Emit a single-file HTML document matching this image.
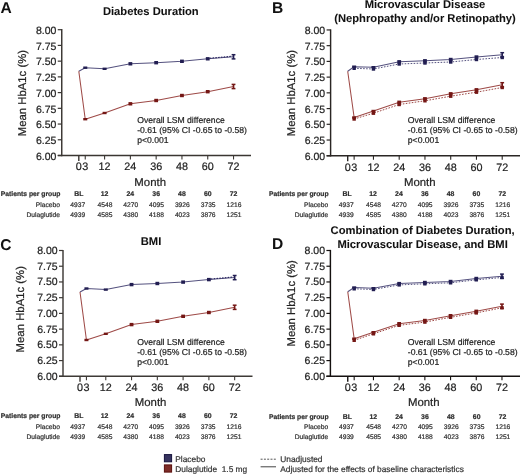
<!DOCTYPE html>
<html><head><meta charset="utf-8">
<style>
html,body{margin:0;padding:0;background:#fff;}
body{width:520px;height:474px;overflow:hidden;}
svg{display:block;font-family:"Liberation Sans", sans-serif;filter:blur(0.35px);text-rendering:geometricPrecision;}

</style></head>
<body>
<svg width="520" height="474" viewBox="0 0 520 474">
<rect width="520" height="474" fill="#fff"/>
<text x="0.60" y="12.60" font-size="15.6" text-anchor="start" font-weight="bold" fill="#111" >A</text>
<text x="150.80" y="14.80" font-size="11.2" text-anchor="middle" font-weight="bold" fill="#111" stroke="#111" stroke-width="0.05" >Diabetes Duration</text>
<text x="0" y="0" font-size="11.35" fill="#222" stroke="#222" stroke-width="0.2" transform="translate(26.10,136.30) rotate(-90)">Mean HbA1c (%)</text>
<line x1="61.75" y1="29.10" x2="61.75" y2="156.20" stroke="#3a3632" stroke-width="1.45" />
<line x1="57.75" y1="29.70" x2="61.75" y2="29.70" stroke="#3a3632" stroke-width="1.2" />
<text x="56.35" y="34.00" font-size="10.5" text-anchor="end" fill="#222" stroke="#222" stroke-width="0.2" >8.00</text>
<line x1="57.75" y1="45.42" x2="61.75" y2="45.42" stroke="#3a3632" stroke-width="1.2" />
<text x="56.35" y="49.72" font-size="10.5" text-anchor="end" fill="#222" stroke="#222" stroke-width="0.2" >7.75</text>
<line x1="57.75" y1="61.15" x2="61.75" y2="61.15" stroke="#3a3632" stroke-width="1.2" />
<text x="56.35" y="65.45" font-size="10.5" text-anchor="end" fill="#222" stroke="#222" stroke-width="0.2" >7.50</text>
<line x1="57.75" y1="76.88" x2="61.75" y2="76.88" stroke="#3a3632" stroke-width="1.2" />
<text x="56.35" y="81.17" font-size="10.5" text-anchor="end" fill="#222" stroke="#222" stroke-width="0.2" >7.25</text>
<line x1="57.75" y1="92.60" x2="61.75" y2="92.60" stroke="#3a3632" stroke-width="1.2" />
<text x="56.35" y="96.90" font-size="10.5" text-anchor="end" fill="#222" stroke="#222" stroke-width="0.2" >7.00</text>
<line x1="57.75" y1="108.33" x2="61.75" y2="108.33" stroke="#3a3632" stroke-width="1.2" />
<text x="56.35" y="112.62" font-size="10.5" text-anchor="end" fill="#222" stroke="#222" stroke-width="0.2" >6.75</text>
<line x1="57.75" y1="124.05" x2="61.75" y2="124.05" stroke="#3a3632" stroke-width="1.2" />
<text x="56.35" y="128.35" font-size="10.5" text-anchor="end" fill="#222" stroke="#222" stroke-width="0.2" >6.50</text>
<line x1="57.75" y1="139.78" x2="61.75" y2="139.78" stroke="#3a3632" stroke-width="1.2" />
<text x="56.35" y="144.08" font-size="10.5" text-anchor="end" fill="#222" stroke="#222" stroke-width="0.2" >6.25</text>
<line x1="57.75" y1="155.50" x2="61.75" y2="155.50" stroke="#3a3632" stroke-width="1.2" />
<text x="56.35" y="159.80" font-size="10.5" text-anchor="end" fill="#222" stroke="#222" stroke-width="0.2" >6.00</text>
<line x1="57.75" y1="155.50" x2="251.00" y2="155.50" stroke="#3a3632" stroke-width="1.5" />
<line x1="78.80" y1="155.50" x2="78.80" y2="161.00" stroke="#3a3632" stroke-width="1.4" />
<text x="78.80" y="170.40" font-size="10.8" text-anchor="middle" fill="#222" stroke="#222" stroke-width="0.2" >0</text>
<line x1="85.25" y1="155.50" x2="85.25" y2="159.50" stroke="#3a3632" stroke-width="1.1" />
<text x="85.25" y="170.40" font-size="10.8" text-anchor="middle" fill="#222" stroke="#222" stroke-width="0.2" >3</text>
<line x1="104.59" y1="155.50" x2="104.59" y2="159.50" stroke="#3a3632" stroke-width="1.1" />
<text x="104.59" y="170.40" font-size="10.8" text-anchor="middle" fill="#222" stroke="#222" stroke-width="0.2" >12</text>
<line x1="130.38" y1="155.50" x2="130.38" y2="159.50" stroke="#3a3632" stroke-width="1.1" />
<text x="130.38" y="170.40" font-size="10.8" text-anchor="middle" fill="#222" stroke="#222" stroke-width="0.2" >24</text>
<line x1="156.16" y1="155.50" x2="156.16" y2="159.50" stroke="#3a3632" stroke-width="1.1" />
<text x="156.16" y="170.40" font-size="10.8" text-anchor="middle" fill="#222" stroke="#222" stroke-width="0.2" >36</text>
<line x1="181.95" y1="155.50" x2="181.95" y2="159.50" stroke="#3a3632" stroke-width="1.1" />
<text x="181.95" y="170.40" font-size="10.8" text-anchor="middle" fill="#222" stroke="#222" stroke-width="0.2" >48</text>
<line x1="207.74" y1="155.50" x2="207.74" y2="159.50" stroke="#3a3632" stroke-width="1.1" />
<text x="207.74" y="170.40" font-size="10.8" text-anchor="middle" fill="#222" stroke="#222" stroke-width="0.2" >60</text>
<line x1="233.53" y1="155.50" x2="233.53" y2="159.50" stroke="#3a3632" stroke-width="1.1" />
<text x="233.53" y="170.40" font-size="10.8" text-anchor="middle" fill="#222" stroke="#222" stroke-width="0.2" >72</text>
<text x="150.20" y="186.30" font-size="11.4" text-anchor="middle" fill="#222" stroke="#222" stroke-width="0.2" >Month</text>
<text x="60.40" y="196.10" font-size="6.75" text-anchor="end" font-weight="bold" fill="#2e2e2e" stroke="#2e2e2e" stroke-width="0.2" >Patients per group</text>
<text x="60.00" y="206.60" font-size="6.7" text-anchor="end" fill="#2e2e2e" stroke="#2e2e2e" stroke-width="0.2" >Placebo</text>
<text x="60.00" y="216.80" font-size="6.7" text-anchor="end" fill="#2e2e2e" stroke="#2e2e2e" stroke-width="0.2" >Dulaglutide</text>
<text x="78.80" y="196.20" font-size="6.9" text-anchor="middle" font-weight="bold" fill="#2e2e2e" stroke="#2e2e2e" stroke-width="0.2" >BL</text>
<text x="77.80" y="206.60" font-size="6.7" text-anchor="middle" fill="#2e2e2e" stroke="#2e2e2e" stroke-width="0.2" >4937</text>
<text x="77.80" y="216.80" font-size="6.7" text-anchor="middle" fill="#2e2e2e" stroke="#2e2e2e" stroke-width="0.2" >4939</text>
<text x="104.59" y="196.20" font-size="6.9" text-anchor="middle" font-weight="bold" fill="#2e2e2e" stroke="#2e2e2e" stroke-width="0.2" >12</text>
<text x="104.99" y="206.60" font-size="6.7" text-anchor="middle" fill="#2e2e2e" stroke="#2e2e2e" stroke-width="0.2" >4548</text>
<text x="104.99" y="216.80" font-size="6.7" text-anchor="middle" fill="#2e2e2e" stroke="#2e2e2e" stroke-width="0.2" >4585</text>
<text x="130.38" y="196.20" font-size="6.9" text-anchor="middle" font-weight="bold" fill="#2e2e2e" stroke="#2e2e2e" stroke-width="0.2" >24</text>
<text x="130.78" y="206.60" font-size="6.7" text-anchor="middle" fill="#2e2e2e" stroke="#2e2e2e" stroke-width="0.2" >4270</text>
<text x="130.78" y="216.80" font-size="6.7" text-anchor="middle" fill="#2e2e2e" stroke="#2e2e2e" stroke-width="0.2" >4380</text>
<text x="156.16" y="196.20" font-size="6.9" text-anchor="middle" font-weight="bold" fill="#2e2e2e" stroke="#2e2e2e" stroke-width="0.2" >36</text>
<text x="156.56" y="206.60" font-size="6.7" text-anchor="middle" fill="#2e2e2e" stroke="#2e2e2e" stroke-width="0.2" >4095</text>
<text x="156.56" y="216.80" font-size="6.7" text-anchor="middle" fill="#2e2e2e" stroke="#2e2e2e" stroke-width="0.2" >4188</text>
<text x="181.95" y="196.20" font-size="6.9" text-anchor="middle" font-weight="bold" fill="#2e2e2e" stroke="#2e2e2e" stroke-width="0.2" >48</text>
<text x="182.35" y="206.60" font-size="6.7" text-anchor="middle" fill="#2e2e2e" stroke="#2e2e2e" stroke-width="0.2" >3926</text>
<text x="182.35" y="216.80" font-size="6.7" text-anchor="middle" fill="#2e2e2e" stroke="#2e2e2e" stroke-width="0.2" >4023</text>
<text x="207.74" y="196.20" font-size="6.9" text-anchor="middle" font-weight="bold" fill="#2e2e2e" stroke="#2e2e2e" stroke-width="0.2" >60</text>
<text x="208.14" y="206.60" font-size="6.7" text-anchor="middle" fill="#2e2e2e" stroke="#2e2e2e" stroke-width="0.2" >3735</text>
<text x="208.14" y="216.80" font-size="6.7" text-anchor="middle" fill="#2e2e2e" stroke="#2e2e2e" stroke-width="0.2" >3876</text>
<text x="233.53" y="196.20" font-size="6.9" text-anchor="middle" font-weight="bold" fill="#2e2e2e" stroke="#2e2e2e" stroke-width="0.2" >72</text>
<text x="233.93" y="206.60" font-size="6.7" text-anchor="middle" fill="#2e2e2e" stroke="#2e2e2e" stroke-width="0.2" >1216</text>
<text x="233.93" y="216.80" font-size="6.7" text-anchor="middle" fill="#2e2e2e" stroke="#2e2e2e" stroke-width="0.2" >1251</text>
<text x="137.20" y="123.10" font-size="8.65" text-anchor="start" fill="#222" stroke="#222" stroke-width="0.2" >Overall LSM difference</text>
<text x="137.20" y="133.10" font-size="8.65" text-anchor="start" fill="#222" stroke="#222" stroke-width="0.2" >-0.61 (95% CI -0.65 to -0.58)</text>
<text x="137.20" y="143.00" font-size="8.65" text-anchor="start" fill="#222" stroke="#222" stroke-width="0.2" >p&lt;0.001</text>
<polyline points="78.80,71.20 85.25,67.70 104.59,68.80 130.38,63.80 156.16,62.70 181.95,61.30 207.74,58.80 233.53,56.80" fill="none" stroke="#55527f" stroke-width="1.05" stroke-linejoin="round" />
<rect x="83.25" y="66.50" width="4.0" height="2.4" fill="#221e52"/>
<rect x="102.59" y="67.60" width="4.0" height="2.4" fill="#221e52"/>
<rect x="128.48" y="62.10" width="3.8" height="3.4" fill="#221e52"/>
<rect x="154.26" y="61.00" width="3.8" height="3.4" fill="#221e52"/>
<rect x="180.05" y="59.60" width="3.8" height="3.4" fill="#221e52"/>
<rect x="205.84" y="57.10" width="3.8" height="3.4" fill="#221e52"/>
<line x1="233.53" y1="54.70" x2="233.53" y2="58.90" stroke="#221e52" stroke-width="1.6" />
<line x1="231.63" y1="54.70" x2="235.43" y2="54.70" stroke="#221e52" stroke-width="1.5" />
<line x1="231.63" y1="58.90" x2="235.43" y2="58.90" stroke="#221e52" stroke-width="1.5" />
<polyline points="78.80,71.20 85.25,119.20 104.59,113.00 130.38,103.80 156.16,100.50 181.95,95.50 207.74,91.70 233.53,86.50" fill="none" stroke="#9e4a47" stroke-width="1.05" stroke-linejoin="round" />
<rect x="83.25" y="118.00" width="4.0" height="2.4" fill="#741715"/>
<rect x="102.59" y="111.80" width="4.0" height="2.4" fill="#741715"/>
<rect x="128.48" y="102.10" width="3.8" height="3.4" fill="#741715"/>
<rect x="154.26" y="98.80" width="3.8" height="3.4" fill="#741715"/>
<rect x="180.05" y="93.80" width="3.8" height="3.4" fill="#741715"/>
<rect x="205.84" y="90.00" width="3.8" height="3.4" fill="#741715"/>
<line x1="233.53" y1="84.40" x2="233.53" y2="88.60" stroke="#741715" stroke-width="1.6" />
<line x1="231.63" y1="84.40" x2="235.43" y2="84.40" stroke="#741715" stroke-width="1.5" />
<line x1="231.63" y1="88.60" x2="235.43" y2="88.60" stroke="#741715" stroke-width="1.5" />
<text x="271.90" y="12.90" font-size="15.6" text-anchor="start" font-weight="bold" fill="#111" >B</text>
<text x="425.00" y="8.20" font-size="11.2" text-anchor="middle" font-weight="bold" fill="#111" stroke="#111" stroke-width="0.05" >Microvascular Disease</text>
<text x="425.00" y="21.50" font-size="11.2" text-anchor="middle" font-weight="bold" fill="#111" stroke="#111" stroke-width="0.05" >(Nephropathy and/or Retinopathy)</text>
<text x="0" y="0" font-size="11.35" fill="#222" stroke="#222" stroke-width="0.2" transform="translate(295.35,136.30) rotate(-90)">Mean HbA1c (%)</text>
<line x1="330.60" y1="29.35" x2="330.60" y2="156.45" stroke="#2a2624" stroke-width="1.45" />
<line x1="326.60" y1="29.95" x2="330.60" y2="29.95" stroke="#2a2624" stroke-width="1.2" />
<text x="325.20" y="33.95" font-size="10.5" text-anchor="end" fill="#222" stroke="#222" stroke-width="0.2" >8.00</text>
<line x1="326.60" y1="45.67" x2="330.60" y2="45.67" stroke="#2a2624" stroke-width="1.2" />
<text x="325.20" y="49.67" font-size="10.5" text-anchor="end" fill="#222" stroke="#222" stroke-width="0.2" >7.75</text>
<line x1="326.60" y1="61.40" x2="330.60" y2="61.40" stroke="#2a2624" stroke-width="1.2" />
<text x="325.20" y="65.40" font-size="10.5" text-anchor="end" fill="#222" stroke="#222" stroke-width="0.2" >7.50</text>
<line x1="326.60" y1="77.12" x2="330.60" y2="77.12" stroke="#2a2624" stroke-width="1.2" />
<text x="325.20" y="81.12" font-size="10.5" text-anchor="end" fill="#222" stroke="#222" stroke-width="0.2" >7.25</text>
<line x1="326.60" y1="92.85" x2="330.60" y2="92.85" stroke="#2a2624" stroke-width="1.2" />
<text x="325.20" y="96.85" font-size="10.5" text-anchor="end" fill="#222" stroke="#222" stroke-width="0.2" >7.00</text>
<line x1="326.60" y1="108.58" x2="330.60" y2="108.58" stroke="#2a2624" stroke-width="1.2" />
<text x="325.20" y="112.58" font-size="10.5" text-anchor="end" fill="#222" stroke="#222" stroke-width="0.2" >6.75</text>
<line x1="326.60" y1="124.30" x2="330.60" y2="124.30" stroke="#2a2624" stroke-width="1.2" />
<text x="325.20" y="128.30" font-size="10.5" text-anchor="end" fill="#222" stroke="#222" stroke-width="0.2" >6.50</text>
<line x1="326.60" y1="140.03" x2="330.60" y2="140.03" stroke="#2a2624" stroke-width="1.2" />
<text x="325.20" y="144.03" font-size="10.5" text-anchor="end" fill="#222" stroke="#222" stroke-width="0.2" >6.25</text>
<line x1="326.60" y1="155.75" x2="330.60" y2="155.75" stroke="#2a2624" stroke-width="1.2" />
<text x="325.20" y="159.75" font-size="10.5" text-anchor="end" fill="#222" stroke="#222" stroke-width="0.2" >6.00</text>
<line x1="326.60" y1="155.75" x2="520.00" y2="155.75" stroke="#2a2624" stroke-width="1.5" />
<line x1="347.70" y1="155.75" x2="347.70" y2="161.25" stroke="#2a2624" stroke-width="1.4" />
<text x="347.70" y="170.65" font-size="10.8" text-anchor="middle" fill="#222" stroke="#222" stroke-width="0.2" >0</text>
<line x1="354.14" y1="155.75" x2="354.14" y2="159.75" stroke="#2a2624" stroke-width="1.1" />
<text x="354.14" y="170.65" font-size="10.8" text-anchor="middle" fill="#222" stroke="#222" stroke-width="0.2" >3</text>
<line x1="373.45" y1="155.75" x2="373.45" y2="159.75" stroke="#2a2624" stroke-width="1.1" />
<text x="373.45" y="170.65" font-size="10.8" text-anchor="middle" fill="#222" stroke="#222" stroke-width="0.2" >12</text>
<line x1="399.20" y1="155.75" x2="399.20" y2="159.75" stroke="#2a2624" stroke-width="1.1" />
<text x="399.20" y="170.65" font-size="10.8" text-anchor="middle" fill="#222" stroke="#222" stroke-width="0.2" >24</text>
<line x1="424.96" y1="155.75" x2="424.96" y2="159.75" stroke="#2a2624" stroke-width="1.1" />
<text x="424.96" y="170.65" font-size="10.8" text-anchor="middle" fill="#222" stroke="#222" stroke-width="0.2" >36</text>
<line x1="450.71" y1="155.75" x2="450.71" y2="159.75" stroke="#2a2624" stroke-width="1.1" />
<text x="450.71" y="170.65" font-size="10.8" text-anchor="middle" fill="#222" stroke="#222" stroke-width="0.2" >48</text>
<line x1="476.46" y1="155.75" x2="476.46" y2="159.75" stroke="#2a2624" stroke-width="1.1" />
<text x="476.46" y="170.65" font-size="10.8" text-anchor="middle" fill="#222" stroke="#222" stroke-width="0.2" >60</text>
<line x1="502.21" y1="155.75" x2="502.21" y2="159.75" stroke="#2a2624" stroke-width="1.1" />
<text x="502.21" y="170.65" font-size="10.8" text-anchor="middle" fill="#222" stroke="#222" stroke-width="0.2" >72</text>
<text x="419.80" y="186.20" font-size="11.4" text-anchor="middle" fill="#222" stroke="#222" stroke-width="0.2" >Month</text>
<text x="328.60" y="196.30" font-size="6.75" text-anchor="end" font-weight="bold" fill="#2e2e2e" stroke="#2e2e2e" stroke-width="0.2" >Patients per group</text>
<text x="328.20" y="206.80" font-size="6.7" text-anchor="end" fill="#2e2e2e" stroke="#2e2e2e" stroke-width="0.2" >Placebo</text>
<text x="328.20" y="217.00" font-size="6.7" text-anchor="end" fill="#2e2e2e" stroke="#2e2e2e" stroke-width="0.2" >Dulaglutide</text>
<text x="347.20" y="196.40" font-size="6.9" text-anchor="middle" font-weight="bold" fill="#2e2e2e" stroke="#2e2e2e" stroke-width="0.2" >BL</text>
<text x="346.20" y="206.80" font-size="6.7" text-anchor="middle" fill="#2e2e2e" stroke="#2e2e2e" stroke-width="0.2" >4937</text>
<text x="346.20" y="217.00" font-size="6.7" text-anchor="middle" fill="#2e2e2e" stroke="#2e2e2e" stroke-width="0.2" >4939</text>
<text x="373.05" y="196.40" font-size="6.9" text-anchor="middle" font-weight="bold" fill="#2e2e2e" stroke="#2e2e2e" stroke-width="0.2" >12</text>
<text x="373.45" y="206.80" font-size="6.7" text-anchor="middle" fill="#2e2e2e" stroke="#2e2e2e" stroke-width="0.2" >4548</text>
<text x="373.45" y="217.00" font-size="6.7" text-anchor="middle" fill="#2e2e2e" stroke="#2e2e2e" stroke-width="0.2" >4585</text>
<text x="398.90" y="196.40" font-size="6.9" text-anchor="middle" font-weight="bold" fill="#2e2e2e" stroke="#2e2e2e" stroke-width="0.2" >24</text>
<text x="399.30" y="206.80" font-size="6.7" text-anchor="middle" fill="#2e2e2e" stroke="#2e2e2e" stroke-width="0.2" >4270</text>
<text x="399.30" y="217.00" font-size="6.7" text-anchor="middle" fill="#2e2e2e" stroke="#2e2e2e" stroke-width="0.2" >4380</text>
<text x="424.74" y="196.40" font-size="6.9" text-anchor="middle" font-weight="bold" fill="#2e2e2e" stroke="#2e2e2e" stroke-width="0.2" >36</text>
<text x="425.14" y="206.80" font-size="6.7" text-anchor="middle" fill="#2e2e2e" stroke="#2e2e2e" stroke-width="0.2" >4095</text>
<text x="425.14" y="217.00" font-size="6.7" text-anchor="middle" fill="#2e2e2e" stroke="#2e2e2e" stroke-width="0.2" >4188</text>
<text x="450.59" y="196.40" font-size="6.9" text-anchor="middle" font-weight="bold" fill="#2e2e2e" stroke="#2e2e2e" stroke-width="0.2" >48</text>
<text x="450.99" y="206.80" font-size="6.7" text-anchor="middle" fill="#2e2e2e" stroke="#2e2e2e" stroke-width="0.2" >3926</text>
<text x="450.99" y="217.00" font-size="6.7" text-anchor="middle" fill="#2e2e2e" stroke="#2e2e2e" stroke-width="0.2" >4023</text>
<text x="476.44" y="196.40" font-size="6.9" text-anchor="middle" font-weight="bold" fill="#2e2e2e" stroke="#2e2e2e" stroke-width="0.2" >60</text>
<text x="476.84" y="206.80" font-size="6.7" text-anchor="middle" fill="#2e2e2e" stroke="#2e2e2e" stroke-width="0.2" >3735</text>
<text x="476.84" y="217.00" font-size="6.7" text-anchor="middle" fill="#2e2e2e" stroke="#2e2e2e" stroke-width="0.2" >3876</text>
<text x="502.29" y="196.40" font-size="6.9" text-anchor="middle" font-weight="bold" fill="#2e2e2e" stroke="#2e2e2e" stroke-width="0.2" >72</text>
<text x="502.69" y="206.80" font-size="6.7" text-anchor="middle" fill="#2e2e2e" stroke="#2e2e2e" stroke-width="0.2" >1216</text>
<text x="502.69" y="217.00" font-size="6.7" text-anchor="middle" fill="#2e2e2e" stroke="#2e2e2e" stroke-width="0.2" >1251</text>
<text x="407.80" y="122.60" font-size="8.65" text-anchor="start" fill="#222" stroke="#222" stroke-width="0.2" >Overall LSM difference</text>
<text x="407.80" y="132.60" font-size="8.65" text-anchor="start" fill="#222" stroke="#222" stroke-width="0.2" >-0.61 (95% CI -0.65 to -0.58)</text>
<text x="407.80" y="142.50" font-size="8.65" text-anchor="start" fill="#222" stroke="#222" stroke-width="0.2" >p&lt;0.001</text>
<polyline points="354.14,68.30 373.45,69.00 399.20,64.00 424.96,63.00 450.71,62.00 476.46,59.50 502.21,57.50" fill="none" stroke="#55527f" stroke-width="1.0" stroke-linejoin="round" stroke-dasharray="1.6 1.4"/>
<rect x="352.44" y="66.60" width="3.4" height="3.4" fill="#221e52"/>
<rect x="371.75" y="67.30" width="3.4" height="3.4" fill="#221e52"/>
<rect x="397.50" y="62.30" width="3.4" height="3.4" fill="#221e52"/>
<rect x="423.26" y="61.30" width="3.4" height="3.4" fill="#221e52"/>
<rect x="449.01" y="60.30" width="3.4" height="3.4" fill="#221e52"/>
<rect x="474.76" y="57.80" width="3.4" height="3.4" fill="#221e52"/>
<rect x="500.51" y="55.80" width="3.4" height="3.4" fill="#221e52"/>
<polyline points="354.14,119.00 373.45,113.20 399.20,104.50 424.96,100.80 450.71,96.20 476.46,92.20 502.21,87.50" fill="none" stroke="#9e4a47" stroke-width="1.0" stroke-linejoin="round" stroke-dasharray="1.6 1.4"/>
<rect x="352.44" y="117.30" width="3.4" height="3.4" fill="#741715"/>
<rect x="371.75" y="111.50" width="3.4" height="3.4" fill="#741715"/>
<rect x="397.50" y="102.80" width="3.4" height="3.4" fill="#741715"/>
<rect x="423.26" y="99.10" width="3.4" height="3.4" fill="#741715"/>
<rect x="449.01" y="94.50" width="3.4" height="3.4" fill="#741715"/>
<rect x="474.76" y="90.50" width="3.4" height="3.4" fill="#741715"/>
<rect x="500.51" y="85.80" width="3.4" height="3.4" fill="#741715"/>
<polyline points="347.70,71.20 354.14,66.70 373.45,67.20 399.20,61.80 424.96,60.80 450.71,59.50 476.46,57.00 502.21,54.80" fill="none" stroke="#55527f" stroke-width="1.05" stroke-linejoin="round" />
<rect x="352.14" y="65.50" width="4.0" height="2.4" fill="#221e52"/>
<rect x="371.45" y="66.00" width="4.0" height="2.4" fill="#221e52"/>
<rect x="397.30" y="60.10" width="3.8" height="3.4" fill="#221e52"/>
<rect x="423.06" y="59.10" width="3.8" height="3.4" fill="#221e52"/>
<rect x="448.81" y="57.80" width="3.8" height="3.4" fill="#221e52"/>
<rect x="474.56" y="55.30" width="3.8" height="3.4" fill="#221e52"/>
<line x1="502.21" y1="52.70" x2="502.21" y2="56.90" stroke="#221e52" stroke-width="1.6" />
<line x1="500.31" y1="52.70" x2="504.11" y2="52.70" stroke="#221e52" stroke-width="1.5" />
<line x1="500.31" y1="56.90" x2="504.11" y2="56.90" stroke="#221e52" stroke-width="1.5" />
<polyline points="347.70,71.20 354.14,117.50 373.45,111.00 399.20,102.30 424.96,98.80 450.71,93.80 476.46,89.80 502.21,84.80" fill="none" stroke="#9e4a47" stroke-width="1.05" stroke-linejoin="round" />
<rect x="352.14" y="116.30" width="4.0" height="2.4" fill="#741715"/>
<rect x="371.45" y="109.80" width="4.0" height="2.4" fill="#741715"/>
<rect x="397.30" y="100.60" width="3.8" height="3.4" fill="#741715"/>
<rect x="423.06" y="97.10" width="3.8" height="3.4" fill="#741715"/>
<rect x="448.81" y="92.10" width="3.8" height="3.4" fill="#741715"/>
<rect x="474.56" y="88.10" width="3.8" height="3.4" fill="#741715"/>
<line x1="502.21" y1="82.70" x2="502.21" y2="86.90" stroke="#741715" stroke-width="1.6" />
<line x1="500.31" y1="82.70" x2="504.11" y2="82.70" stroke="#741715" stroke-width="1.5" />
<line x1="500.31" y1="86.90" x2="504.11" y2="86.90" stroke="#741715" stroke-width="1.5" />
<text x="0.20" y="250.20" font-size="15.6" text-anchor="start" font-weight="bold" fill="#111" >C</text>
<text x="151.00" y="244.80" font-size="11.2" text-anchor="middle" font-weight="bold" fill="#111" stroke="#111" stroke-width="0.05" >BMI</text>
<text x="0" y="0" font-size="11.35" fill="#222" stroke="#222" stroke-width="0.2" transform="translate(23.80,352.40) rotate(-90)">Mean HbA1c (%)</text>
<line x1="63.00" y1="249.90" x2="63.00" y2="377.00" stroke="#3e3a36" stroke-width="1.45" />
<line x1="59.00" y1="250.50" x2="63.00" y2="250.50" stroke="#3e3a36" stroke-width="1.2" />
<text x="57.60" y="254.00" font-size="10.5" text-anchor="end" fill="#222" stroke="#222" stroke-width="0.2" >8.00</text>
<line x1="59.00" y1="266.23" x2="63.00" y2="266.23" stroke="#3e3a36" stroke-width="1.2" />
<text x="57.60" y="269.73" font-size="10.5" text-anchor="end" fill="#222" stroke="#222" stroke-width="0.2" >7.75</text>
<line x1="59.00" y1="281.95" x2="63.00" y2="281.95" stroke="#3e3a36" stroke-width="1.2" />
<text x="57.60" y="285.45" font-size="10.5" text-anchor="end" fill="#222" stroke="#222" stroke-width="0.2" >7.50</text>
<line x1="59.00" y1="297.68" x2="63.00" y2="297.68" stroke="#3e3a36" stroke-width="1.2" />
<text x="57.60" y="301.18" font-size="10.5" text-anchor="end" fill="#222" stroke="#222" stroke-width="0.2" >7.25</text>
<line x1="59.00" y1="313.40" x2="63.00" y2="313.40" stroke="#3e3a36" stroke-width="1.2" />
<text x="57.60" y="316.90" font-size="10.5" text-anchor="end" fill="#222" stroke="#222" stroke-width="0.2" >7.00</text>
<line x1="59.00" y1="329.12" x2="63.00" y2="329.12" stroke="#3e3a36" stroke-width="1.2" />
<text x="57.60" y="332.62" font-size="10.5" text-anchor="end" fill="#222" stroke="#222" stroke-width="0.2" >6.75</text>
<line x1="59.00" y1="344.85" x2="63.00" y2="344.85" stroke="#3e3a36" stroke-width="1.2" />
<text x="57.60" y="348.35" font-size="10.5" text-anchor="end" fill="#222" stroke="#222" stroke-width="0.2" >6.50</text>
<line x1="59.00" y1="360.58" x2="63.00" y2="360.58" stroke="#3e3a36" stroke-width="1.2" />
<text x="57.60" y="364.08" font-size="10.5" text-anchor="end" fill="#222" stroke="#222" stroke-width="0.2" >6.25</text>
<line x1="59.00" y1="376.30" x2="63.00" y2="376.30" stroke="#3e3a36" stroke-width="1.2" />
<text x="57.60" y="379.80" font-size="10.5" text-anchor="end" fill="#222" stroke="#222" stroke-width="0.2" >6.00</text>
<line x1="59.00" y1="376.30" x2="252.50" y2="376.30" stroke="#3e3a36" stroke-width="1.5" />
<line x1="80.00" y1="376.30" x2="80.00" y2="381.80" stroke="#3e3a36" stroke-width="1.4" />
<text x="80.00" y="391.20" font-size="10.8" text-anchor="middle" fill="#222" stroke="#222" stroke-width="0.2" >0</text>
<line x1="86.44" y1="376.30" x2="86.44" y2="380.30" stroke="#3e3a36" stroke-width="1.1" />
<text x="86.44" y="391.20" font-size="10.8" text-anchor="middle" fill="#222" stroke="#222" stroke-width="0.2" >3</text>
<line x1="105.78" y1="376.30" x2="105.78" y2="380.30" stroke="#3e3a36" stroke-width="1.1" />
<text x="105.78" y="391.20" font-size="10.8" text-anchor="middle" fill="#222" stroke="#222" stroke-width="0.2" >12</text>
<line x1="131.55" y1="376.30" x2="131.55" y2="380.30" stroke="#3e3a36" stroke-width="1.1" />
<text x="131.55" y="391.20" font-size="10.8" text-anchor="middle" fill="#222" stroke="#222" stroke-width="0.2" >24</text>
<line x1="157.33" y1="376.30" x2="157.33" y2="380.30" stroke="#3e3a36" stroke-width="1.1" />
<text x="157.33" y="391.20" font-size="10.8" text-anchor="middle" fill="#222" stroke="#222" stroke-width="0.2" >36</text>
<line x1="183.10" y1="376.30" x2="183.10" y2="380.30" stroke="#3e3a36" stroke-width="1.1" />
<text x="183.10" y="391.20" font-size="10.8" text-anchor="middle" fill="#222" stroke="#222" stroke-width="0.2" >48</text>
<line x1="208.88" y1="376.30" x2="208.88" y2="380.30" stroke="#3e3a36" stroke-width="1.1" />
<text x="208.88" y="391.20" font-size="10.8" text-anchor="middle" fill="#222" stroke="#222" stroke-width="0.2" >60</text>
<line x1="234.66" y1="376.30" x2="234.66" y2="380.30" stroke="#3e3a36" stroke-width="1.1" />
<text x="234.66" y="391.20" font-size="10.8" text-anchor="middle" fill="#222" stroke="#222" stroke-width="0.2" >72</text>
<text x="150.60" y="405.90" font-size="11.4" text-anchor="middle" fill="#222" stroke="#222" stroke-width="0.2" >Month</text>
<text x="60.40" y="418.30" font-size="6.75" text-anchor="end" font-weight="bold" fill="#2e2e2e" stroke="#2e2e2e" stroke-width="0.2" >Patients per group</text>
<text x="60.00" y="428.80" font-size="6.7" text-anchor="end" fill="#2e2e2e" stroke="#2e2e2e" stroke-width="0.2" >Placebo</text>
<text x="60.00" y="439.00" font-size="6.7" text-anchor="end" fill="#2e2e2e" stroke="#2e2e2e" stroke-width="0.2" >Dulaglutide</text>
<text x="78.80" y="418.40" font-size="6.9" text-anchor="middle" font-weight="bold" fill="#2e2e2e" stroke="#2e2e2e" stroke-width="0.2" >BL</text>
<text x="77.80" y="428.80" font-size="6.7" text-anchor="middle" fill="#2e2e2e" stroke="#2e2e2e" stroke-width="0.2" >4937</text>
<text x="77.80" y="439.00" font-size="6.7" text-anchor="middle" fill="#2e2e2e" stroke="#2e2e2e" stroke-width="0.2" >4939</text>
<text x="104.59" y="418.40" font-size="6.9" text-anchor="middle" font-weight="bold" fill="#2e2e2e" stroke="#2e2e2e" stroke-width="0.2" >12</text>
<text x="104.99" y="428.80" font-size="6.7" text-anchor="middle" fill="#2e2e2e" stroke="#2e2e2e" stroke-width="0.2" >4548</text>
<text x="104.99" y="439.00" font-size="6.7" text-anchor="middle" fill="#2e2e2e" stroke="#2e2e2e" stroke-width="0.2" >4585</text>
<text x="130.38" y="418.40" font-size="6.9" text-anchor="middle" font-weight="bold" fill="#2e2e2e" stroke="#2e2e2e" stroke-width="0.2" >24</text>
<text x="130.78" y="428.80" font-size="6.7" text-anchor="middle" fill="#2e2e2e" stroke="#2e2e2e" stroke-width="0.2" >4270</text>
<text x="130.78" y="439.00" font-size="6.7" text-anchor="middle" fill="#2e2e2e" stroke="#2e2e2e" stroke-width="0.2" >4380</text>
<text x="156.16" y="418.40" font-size="6.9" text-anchor="middle" font-weight="bold" fill="#2e2e2e" stroke="#2e2e2e" stroke-width="0.2" >36</text>
<text x="156.56" y="428.80" font-size="6.7" text-anchor="middle" fill="#2e2e2e" stroke="#2e2e2e" stroke-width="0.2" >4095</text>
<text x="156.56" y="439.00" font-size="6.7" text-anchor="middle" fill="#2e2e2e" stroke="#2e2e2e" stroke-width="0.2" >4188</text>
<text x="181.95" y="418.40" font-size="6.9" text-anchor="middle" font-weight="bold" fill="#2e2e2e" stroke="#2e2e2e" stroke-width="0.2" >48</text>
<text x="182.35" y="428.80" font-size="6.7" text-anchor="middle" fill="#2e2e2e" stroke="#2e2e2e" stroke-width="0.2" >3926</text>
<text x="182.35" y="439.00" font-size="6.7" text-anchor="middle" fill="#2e2e2e" stroke="#2e2e2e" stroke-width="0.2" >4023</text>
<text x="207.74" y="418.40" font-size="6.9" text-anchor="middle" font-weight="bold" fill="#2e2e2e" stroke="#2e2e2e" stroke-width="0.2" >60</text>
<text x="208.14" y="428.80" font-size="6.7" text-anchor="middle" fill="#2e2e2e" stroke="#2e2e2e" stroke-width="0.2" >3735</text>
<text x="208.14" y="439.00" font-size="6.7" text-anchor="middle" fill="#2e2e2e" stroke="#2e2e2e" stroke-width="0.2" >3876</text>
<text x="233.53" y="418.40" font-size="6.9" text-anchor="middle" font-weight="bold" fill="#2e2e2e" stroke="#2e2e2e" stroke-width="0.2" >72</text>
<text x="233.93" y="428.80" font-size="6.7" text-anchor="middle" fill="#2e2e2e" stroke="#2e2e2e" stroke-width="0.2" >1216</text>
<text x="233.93" y="439.00" font-size="6.7" text-anchor="middle" fill="#2e2e2e" stroke="#2e2e2e" stroke-width="0.2" >1251</text>
<text x="137.20" y="344.90" font-size="8.65" text-anchor="start" fill="#222" stroke="#222" stroke-width="0.2" >Overall LSM difference</text>
<text x="137.20" y="354.90" font-size="8.65" text-anchor="start" fill="#222" stroke="#222" stroke-width="0.2" >-0.61 (95% CI -0.65 to -0.58)</text>
<text x="137.20" y="364.80" font-size="8.65" text-anchor="start" fill="#222" stroke="#222" stroke-width="0.2" >p&lt;0.001</text>
<polyline points="80.00,292.00 86.44,288.50 105.78,289.60 131.55,284.60 157.33,283.50 183.10,282.10 208.88,279.60 234.66,277.60" fill="none" stroke="#55527f" stroke-width="1.05" stroke-linejoin="round" />
<rect x="84.44" y="287.30" width="4.0" height="2.4" fill="#221e52"/>
<rect x="103.78" y="288.40" width="4.0" height="2.4" fill="#221e52"/>
<rect x="129.65" y="282.90" width="3.8" height="3.4" fill="#221e52"/>
<rect x="155.43" y="281.80" width="3.8" height="3.4" fill="#221e52"/>
<rect x="181.20" y="280.40" width="3.8" height="3.4" fill="#221e52"/>
<rect x="206.98" y="277.90" width="3.8" height="3.4" fill="#221e52"/>
<line x1="234.66" y1="275.50" x2="234.66" y2="279.70" stroke="#221e52" stroke-width="1.6" />
<line x1="232.76" y1="275.50" x2="236.56" y2="275.50" stroke="#221e52" stroke-width="1.5" />
<line x1="232.76" y1="279.70" x2="236.56" y2="279.70" stroke="#221e52" stroke-width="1.5" />
<polyline points="80.00,292.00 86.44,340.00 105.78,333.80 131.55,324.60 157.33,321.30 183.10,316.30 208.88,312.50 234.66,307.30" fill="none" stroke="#9e4a47" stroke-width="1.05" stroke-linejoin="round" />
<rect x="84.44" y="338.80" width="4.0" height="2.4" fill="#741715"/>
<rect x="103.78" y="332.60" width="4.0" height="2.4" fill="#741715"/>
<rect x="129.65" y="322.90" width="3.8" height="3.4" fill="#741715"/>
<rect x="155.43" y="319.60" width="3.8" height="3.4" fill="#741715"/>
<rect x="181.20" y="314.60" width="3.8" height="3.4" fill="#741715"/>
<rect x="206.98" y="310.80" width="3.8" height="3.4" fill="#741715"/>
<line x1="234.66" y1="305.20" x2="234.66" y2="309.40" stroke="#741715" stroke-width="1.6" />
<line x1="232.76" y1="305.20" x2="236.56" y2="305.20" stroke="#741715" stroke-width="1.5" />
<line x1="232.76" y1="309.40" x2="236.56" y2="309.40" stroke="#741715" stroke-width="1.5" />
<text x="271.90" y="249.30" font-size="15.6" text-anchor="start" font-weight="bold" fill="#111" >D</text>
<text x="422.60" y="234.30" font-size="11.2" text-anchor="middle" font-weight="bold" fill="#111" stroke="#111" stroke-width="0.05" >Combination of Diabetes Duration,</text>
<text x="422.60" y="247.60" font-size="11.2" text-anchor="middle" font-weight="bold" fill="#111" stroke="#111" stroke-width="0.05" >Microvascular Disease, and BMI</text>
<text x="0" y="0" font-size="11.35" fill="#222" stroke="#222" stroke-width="0.2" transform="translate(294.50,346.50) rotate(-90)">Mean HbA1c (%)</text>
<line x1="330.40" y1="249.90" x2="330.40" y2="377.00" stroke="#151110" stroke-width="1.45" />
<line x1="326.40" y1="250.50" x2="330.40" y2="250.50" stroke="#151110" stroke-width="1.2" />
<text x="325.00" y="254.00" font-size="10.5" text-anchor="end" fill="#222" stroke="#222" stroke-width="0.2" >8.00</text>
<line x1="326.40" y1="266.23" x2="330.40" y2="266.23" stroke="#151110" stroke-width="1.2" />
<text x="325.00" y="269.73" font-size="10.5" text-anchor="end" fill="#222" stroke="#222" stroke-width="0.2" >7.75</text>
<line x1="326.40" y1="281.95" x2="330.40" y2="281.95" stroke="#151110" stroke-width="1.2" />
<text x="325.00" y="285.45" font-size="10.5" text-anchor="end" fill="#222" stroke="#222" stroke-width="0.2" >7.50</text>
<line x1="326.40" y1="297.68" x2="330.40" y2="297.68" stroke="#151110" stroke-width="1.2" />
<text x="325.00" y="301.18" font-size="10.5" text-anchor="end" fill="#222" stroke="#222" stroke-width="0.2" >7.25</text>
<line x1="326.40" y1="313.40" x2="330.40" y2="313.40" stroke="#151110" stroke-width="1.2" />
<text x="325.00" y="316.90" font-size="10.5" text-anchor="end" fill="#222" stroke="#222" stroke-width="0.2" >7.00</text>
<line x1="326.40" y1="329.12" x2="330.40" y2="329.12" stroke="#151110" stroke-width="1.2" />
<text x="325.00" y="332.62" font-size="10.5" text-anchor="end" fill="#222" stroke="#222" stroke-width="0.2" >6.75</text>
<line x1="326.40" y1="344.85" x2="330.40" y2="344.85" stroke="#151110" stroke-width="1.2" />
<text x="325.00" y="348.35" font-size="10.5" text-anchor="end" fill="#222" stroke="#222" stroke-width="0.2" >6.50</text>
<line x1="326.40" y1="360.58" x2="330.40" y2="360.58" stroke="#151110" stroke-width="1.2" />
<text x="325.00" y="364.08" font-size="10.5" text-anchor="end" fill="#222" stroke="#222" stroke-width="0.2" >6.25</text>
<line x1="326.40" y1="376.30" x2="330.40" y2="376.30" stroke="#151110" stroke-width="1.2" />
<text x="325.00" y="379.80" font-size="10.5" text-anchor="end" fill="#222" stroke="#222" stroke-width="0.2" >6.00</text>
<line x1="326.40" y1="376.30" x2="520.00" y2="376.30" stroke="#151110" stroke-width="1.5" />
<line x1="347.75" y1="376.30" x2="347.75" y2="381.80" stroke="#151110" stroke-width="1.4" />
<text x="347.75" y="391.20" font-size="10.8" text-anchor="middle" fill="#222" stroke="#222" stroke-width="0.2" >0</text>
<line x1="354.18" y1="376.30" x2="354.18" y2="380.30" stroke="#151110" stroke-width="1.1" />
<text x="354.18" y="391.20" font-size="10.8" text-anchor="middle" fill="#222" stroke="#222" stroke-width="0.2" >3</text>
<line x1="373.45" y1="376.30" x2="373.45" y2="380.30" stroke="#151110" stroke-width="1.1" />
<text x="373.45" y="391.20" font-size="10.8" text-anchor="middle" fill="#222" stroke="#222" stroke-width="0.2" >12</text>
<line x1="399.16" y1="376.30" x2="399.16" y2="380.30" stroke="#151110" stroke-width="1.1" />
<text x="399.16" y="391.20" font-size="10.8" text-anchor="middle" fill="#222" stroke="#222" stroke-width="0.2" >24</text>
<line x1="424.86" y1="376.30" x2="424.86" y2="380.30" stroke="#151110" stroke-width="1.1" />
<text x="424.86" y="391.20" font-size="10.8" text-anchor="middle" fill="#222" stroke="#222" stroke-width="0.2" >36</text>
<line x1="450.57" y1="376.30" x2="450.57" y2="380.30" stroke="#151110" stroke-width="1.1" />
<text x="450.57" y="391.20" font-size="10.8" text-anchor="middle" fill="#222" stroke="#222" stroke-width="0.2" >48</text>
<line x1="476.27" y1="376.30" x2="476.27" y2="380.30" stroke="#151110" stroke-width="1.1" />
<text x="476.27" y="391.20" font-size="10.8" text-anchor="middle" fill="#222" stroke="#222" stroke-width="0.2" >60</text>
<line x1="501.97" y1="376.30" x2="501.97" y2="380.30" stroke="#151110" stroke-width="1.1" />
<text x="501.97" y="391.20" font-size="10.8" text-anchor="middle" fill="#222" stroke="#222" stroke-width="0.2" >72</text>
<text x="423.80" y="405.80" font-size="11.4" text-anchor="middle" fill="#222" stroke="#222" stroke-width="0.2" >Month</text>
<text x="328.60" y="418.50" font-size="6.75" text-anchor="end" font-weight="bold" fill="#2e2e2e" stroke="#2e2e2e" stroke-width="0.2" >Patients per group</text>
<text x="328.20" y="429.00" font-size="6.7" text-anchor="end" fill="#2e2e2e" stroke="#2e2e2e" stroke-width="0.2" >Placebo</text>
<text x="328.20" y="439.20" font-size="6.7" text-anchor="end" fill="#2e2e2e" stroke="#2e2e2e" stroke-width="0.2" >Dulaglutide</text>
<text x="347.40" y="418.60" font-size="6.9" text-anchor="middle" font-weight="bold" fill="#2e2e2e" stroke="#2e2e2e" stroke-width="0.2" >BL</text>
<text x="346.40" y="429.00" font-size="6.7" text-anchor="middle" fill="#2e2e2e" stroke="#2e2e2e" stroke-width="0.2" >4937</text>
<text x="346.40" y="439.20" font-size="6.7" text-anchor="middle" fill="#2e2e2e" stroke="#2e2e2e" stroke-width="0.2" >4939</text>
<text x="373.25" y="418.60" font-size="6.9" text-anchor="middle" font-weight="bold" fill="#2e2e2e" stroke="#2e2e2e" stroke-width="0.2" >12</text>
<text x="373.65" y="429.00" font-size="6.7" text-anchor="middle" fill="#2e2e2e" stroke="#2e2e2e" stroke-width="0.2" >4548</text>
<text x="373.65" y="439.20" font-size="6.7" text-anchor="middle" fill="#2e2e2e" stroke="#2e2e2e" stroke-width="0.2" >4585</text>
<text x="399.10" y="418.60" font-size="6.9" text-anchor="middle" font-weight="bold" fill="#2e2e2e" stroke="#2e2e2e" stroke-width="0.2" >24</text>
<text x="399.50" y="429.00" font-size="6.7" text-anchor="middle" fill="#2e2e2e" stroke="#2e2e2e" stroke-width="0.2" >4270</text>
<text x="399.50" y="439.20" font-size="6.7" text-anchor="middle" fill="#2e2e2e" stroke="#2e2e2e" stroke-width="0.2" >4380</text>
<text x="424.94" y="418.60" font-size="6.9" text-anchor="middle" font-weight="bold" fill="#2e2e2e" stroke="#2e2e2e" stroke-width="0.2" >36</text>
<text x="425.34" y="429.00" font-size="6.7" text-anchor="middle" fill="#2e2e2e" stroke="#2e2e2e" stroke-width="0.2" >4095</text>
<text x="425.34" y="439.20" font-size="6.7" text-anchor="middle" fill="#2e2e2e" stroke="#2e2e2e" stroke-width="0.2" >4188</text>
<text x="450.79" y="418.60" font-size="6.9" text-anchor="middle" font-weight="bold" fill="#2e2e2e" stroke="#2e2e2e" stroke-width="0.2" >48</text>
<text x="451.19" y="429.00" font-size="6.7" text-anchor="middle" fill="#2e2e2e" stroke="#2e2e2e" stroke-width="0.2" >3926</text>
<text x="451.19" y="439.20" font-size="6.7" text-anchor="middle" fill="#2e2e2e" stroke="#2e2e2e" stroke-width="0.2" >4023</text>
<text x="476.64" y="418.60" font-size="6.9" text-anchor="middle" font-weight="bold" fill="#2e2e2e" stroke="#2e2e2e" stroke-width="0.2" >60</text>
<text x="477.04" y="429.00" font-size="6.7" text-anchor="middle" fill="#2e2e2e" stroke="#2e2e2e" stroke-width="0.2" >3735</text>
<text x="477.04" y="439.20" font-size="6.7" text-anchor="middle" fill="#2e2e2e" stroke="#2e2e2e" stroke-width="0.2" >3876</text>
<text x="502.49" y="418.60" font-size="6.9" text-anchor="middle" font-weight="bold" fill="#2e2e2e" stroke="#2e2e2e" stroke-width="0.2" >72</text>
<text x="502.89" y="429.00" font-size="6.7" text-anchor="middle" fill="#2e2e2e" stroke="#2e2e2e" stroke-width="0.2" >1216</text>
<text x="502.89" y="439.20" font-size="6.7" text-anchor="middle" fill="#2e2e2e" stroke="#2e2e2e" stroke-width="0.2" >1251</text>
<text x="407.80" y="345.10" font-size="8.65" text-anchor="start" fill="#222" stroke="#222" stroke-width="0.2" >Overall LSM difference</text>
<text x="407.80" y="355.10" font-size="8.65" text-anchor="start" fill="#222" stroke="#222" stroke-width="0.2" >-0.61 (95% CI -0.65 to -0.58)</text>
<text x="407.80" y="365.00" font-size="8.65" text-anchor="start" fill="#222" stroke="#222" stroke-width="0.2" >p&lt;0.001</text>
<polyline points="354.18,288.80 373.45,289.50 399.16,284.90 424.86,283.80 450.57,282.80 476.27,279.80 501.97,277.50" fill="none" stroke="#55527f" stroke-width="1.0" stroke-linejoin="round" stroke-dasharray="1.6 1.4"/>
<rect x="352.48" y="287.10" width="3.4" height="3.4" fill="#221e52"/>
<rect x="371.75" y="287.80" width="3.4" height="3.4" fill="#221e52"/>
<rect x="397.46" y="283.20" width="3.4" height="3.4" fill="#221e52"/>
<rect x="423.16" y="282.10" width="3.4" height="3.4" fill="#221e52"/>
<rect x="448.87" y="281.10" width="3.4" height="3.4" fill="#221e52"/>
<rect x="474.57" y="278.10" width="3.4" height="3.4" fill="#221e52"/>
<rect x="500.27" y="275.80" width="3.4" height="3.4" fill="#221e52"/>
<polyline points="354.18,340.30 373.45,333.80 399.16,325.30 424.86,322.10 450.57,317.30 476.27,312.90 501.97,307.80" fill="none" stroke="#9e4a47" stroke-width="1.0" stroke-linejoin="round" stroke-dasharray="1.6 1.4"/>
<rect x="352.48" y="338.60" width="3.4" height="3.4" fill="#741715"/>
<rect x="371.75" y="332.10" width="3.4" height="3.4" fill="#741715"/>
<rect x="397.46" y="323.60" width="3.4" height="3.4" fill="#741715"/>
<rect x="423.16" y="320.40" width="3.4" height="3.4" fill="#741715"/>
<rect x="448.87" y="315.60" width="3.4" height="3.4" fill="#741715"/>
<rect x="474.57" y="311.20" width="3.4" height="3.4" fill="#741715"/>
<rect x="500.27" y="306.10" width="3.4" height="3.4" fill="#741715"/>
<polyline points="347.75,291.80 354.18,287.50 373.45,288.20 399.16,283.60 424.86,282.50 450.57,281.50 476.27,278.50 501.97,276.20" fill="none" stroke="#55527f" stroke-width="1.05" stroke-linejoin="round" />
<rect x="352.18" y="286.30" width="4.0" height="2.4" fill="#221e52"/>
<rect x="371.45" y="287.00" width="4.0" height="2.4" fill="#221e52"/>
<rect x="397.26" y="281.90" width="3.8" height="3.4" fill="#221e52"/>
<rect x="422.96" y="280.80" width="3.8" height="3.4" fill="#221e52"/>
<rect x="448.67" y="279.80" width="3.8" height="3.4" fill="#221e52"/>
<rect x="474.37" y="276.80" width="3.8" height="3.4" fill="#221e52"/>
<line x1="501.97" y1="274.10" x2="501.97" y2="278.30" stroke="#221e52" stroke-width="1.6" />
<line x1="500.07" y1="274.10" x2="503.87" y2="274.10" stroke="#221e52" stroke-width="1.5" />
<line x1="500.07" y1="278.30" x2="503.87" y2="278.30" stroke="#221e52" stroke-width="1.5" />
<polyline points="347.75,291.80 354.18,338.70 373.45,332.20 399.16,323.70 424.86,320.50 450.57,315.70 476.27,311.30 501.97,306.20" fill="none" stroke="#9e4a47" stroke-width="1.05" stroke-linejoin="round" />
<rect x="352.18" y="337.50" width="4.0" height="2.4" fill="#741715"/>
<rect x="371.45" y="331.00" width="4.0" height="2.4" fill="#741715"/>
<rect x="397.26" y="322.00" width="3.8" height="3.4" fill="#741715"/>
<rect x="422.96" y="318.80" width="3.8" height="3.4" fill="#741715"/>
<rect x="448.67" y="314.00" width="3.8" height="3.4" fill="#741715"/>
<rect x="474.37" y="309.60" width="3.8" height="3.4" fill="#741715"/>
<line x1="501.97" y1="304.10" x2="501.97" y2="308.30" stroke="#741715" stroke-width="1.6" />
<line x1="500.07" y1="304.10" x2="503.87" y2="304.10" stroke="#741715" stroke-width="1.5" />
<line x1="500.07" y1="308.30" x2="503.87" y2="308.30" stroke="#741715" stroke-width="1.5" />
<line x1="209.74" y1="58.20" x2="231.53" y2="56.30" stroke="#2a2660" stroke-width="1.1" stroke-dasharray="1.5 1.3"/>
<line x1="210.88" y1="279.00" x2="232.66" y2="277.10" stroke="#2a2660" stroke-width="1.1" stroke-dasharray="1.5 1.3"/>
<rect x="164.4" y="454.6" width="7.2" height="7.2" fill="#36335f" stroke="#16123c" stroke-width="1"/>
<rect x="164.4" y="464.9" width="7.2" height="7.2" fill="#7d2c28" stroke="#5a100d" stroke-width="1"/>
<text x="175.30" y="461.90" font-size="8.35" text-anchor="start" fill="#333" stroke="#333" stroke-width="0.2" >Placebo</text>
<text x="175.30" y="471.80" font-size="8.35" text-anchor="start" fill="#333" stroke="#333" stroke-width="0.2" >Dulaglutide&#160;&#160;1.5 mg</text>
<line x1="260.60" y1="459.20" x2="276.00" y2="459.20" stroke="#555" stroke-width="1.0" stroke-dasharray="2 1.3"/>
<line x1="260.60" y1="466.80" x2="276.00" y2="466.80" stroke="#444" stroke-width="1.0" />
<text x="280.30" y="461.60" font-size="8.35" text-anchor="start" fill="#333" stroke="#333" stroke-width="0.2" >Unadjusted</text>
<text x="280.30" y="471.50" font-size="8.35" text-anchor="start" fill="#333" stroke="#333" stroke-width="0.2" >Adjusted for the effects of baseline characteristics</text>
</svg>
</body></html>
